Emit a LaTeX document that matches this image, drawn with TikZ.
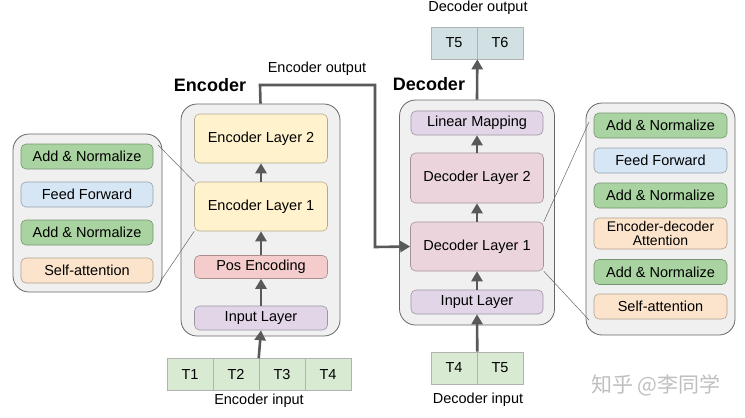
\documentclass[tikz,border=0pt]{standalone}
\usepackage{fontspec}
\setmainfont{Liberation Sans}
\newfontfamily\cjk{Noto Sans CJK SC}
\usetikzlibrary{arrows.meta}
\begin{document}
\begin{tikzpicture}[x=1pt,y=-1pt,font=\fontsize{14.5}{15}\selectfont,
 blk/.style={draw=#1!70!black,rounded corners=5pt,line width=0.6pt,align=center,inner sep=0pt},
 outer/.style={draw=black!60,fill=black!6,rounded corners=16pt,line width=0.8pt},
 arr/.style={draw=black!65,line width=2.6pt,-{Triangle[length=10pt,width=11pt]}},
 thin/.style={draw=black!60,line width=0.5pt},
 tok/.style={draw=black!30,line width=0.6pt,minimum height=32pt,minimum width=46pt,inner sep=0pt}]
\useasboundingbox (0,0) rectangle (745,418);
\definecolor{yel}{HTML}{FFF2CC}\definecolor{pnk}{HTML}{EBD4DC}\definecolor{pur}{HTML}{E1D5E7}
\definecolor{grn}{HTML}{A9D3A0}\definecolor{blu}{HTML}{D6E6F5}\definecolor{org}{HTML}{FCE4CC}
\definecolor{pos}{HTML}{F4CCCC}\definecolor{tg}{HTML}{D9EAD3}\definecolor{tb}{HTML}{D0E0E3}
% encoder
\node[outer,minimum width=159pt,minimum height=232pt] (encbox) at (260.5,220) {};
\node[font=\fontsize{18}{20}\selectfont\bfseries] (enct) at (210,85) {Encoder};
\node[blk=yel,fill=yel,minimum width=133pt,minimum height=49pt] (el2) at (261,138.5) {Encoder Layer 2};
\node[blk=yel,fill=yel,minimum width=133pt,minimum height=49pt] (el1) at (261,206.5) {Encoder Layer 1};
\node[blk=pos,fill=pos,minimum width=133pt,minimum height=23pt] (pe) at (261,267) {Pos Encoding};
\node[blk=pur,fill=pur,minimum width=133pt,minimum height=24pt] (il) at (261,318) {Input Layer};
\foreach \i/\x in {1/190,2/236,3/282,4/328}{\node[tok,fill=tg] (t\i) at (\x,374.5) {T\i};}
\node (encin) at (259,401) {Encoder input};
\draw[arr] (el1.north) -- (el2.south);
\draw[arr] (pe.north) -- (el1.south);
\draw[arr] (il.north) -- (pe.south);
\draw[arr] (t3.north west) -- (il.south);
% encoder detail
\node[outer,minimum width=149pt,minimum height=158pt] (ebox) at (87.5,213) {};
\node[blk=grn,fill=grn,minimum width=132pt,minimum height=25pt] (ea1) at (87,156.5) {Add \& Normalize};
\node[blk=blu,fill=blu,minimum width=132pt,minimum height=25pt] (eff) at (87,194.5) {Feed Forward};
\node[blk=grn,fill=grn,minimum width=132pt,minimum height=25pt] (ea2) at (87,232.5) {Add \& Normalize};
\node[blk=org,fill=org,minimum width=132pt,minimum height=25pt] (esa) at (87,270.5) {Self-attention};
\draw[thin] (158,145) -- (el1.north west);
\draw[thin] (160,282) -- (el1.south west);
% decoder
\node[outer,minimum width=155pt,minimum height=225pt] (decbox) at (477,212.5) {};
\node[font=\fontsize{18}{20}\selectfont\bfseries] (dect) at (429,84) {Decoder};
\node[blk=pur,fill=pur,minimum width=132pt,minimum height=24pt] (lm) at (477,123) {Linear Mapping};
\node[blk=pnk,fill=pnk,minimum width=133pt,minimum height=50pt] (dl2) at (477,178) {Decoder Layer 2};
\node[blk=pnk,fill=pnk,minimum width=133pt,minimum height=49pt] (dl1) at (477,246.5) {Decoder Layer 1};
\node[blk=pur,fill=pur,minimum width=132pt,minimum height=24pt] (dil) at (477,302) {Input Layer};
\node[tok,fill=tg] (d4) at (454,368) {T4};
\node[tok,fill=tg] (d5) at (500,368) {T5};
\node (decin) at (478,400) {Decoder input};
\node[tok,fill=tb] (o5) at (454,43) {T5};
\node[tok,fill=tb] (o6) at (500,43) {T6};
\node (decout) at (478,8) {Decoder output};
\draw[arr] (dl2.north) -- (lm.south);
\draw[arr] (dl1.north) -- (dl2.south);
\draw[arr] (dil.north) -- (dl1.south);
\draw[arr] (d4.north east) -- (dil.south);
\draw[arr] (decbox.north) -- (o5.south east);
% encoder output
\coordinate (c1) at (260,85); \coordinate (c2) at (375,85); \coordinate (c3) at (375,247);
\draw[arr] (encbox.north) -- (c1) -- (c2) -- (c3) -- (dl1.west);
\node (encout) at (317,69) {Encoder output};
% decoder detail
\node[outer,minimum width=149pt,minimum height=232pt] (dbox) at (660.5,219) {};
\node[blk=grn,fill=grn,minimum width=133pt,minimum height=25pt] (da1) at (660.5,125.5) {Add \& Normalize};
\node[blk=blu,fill=blu,minimum width=133pt,minimum height=25pt] (dff) at (660.5,160.5) {Feed Forward};
\node[blk=grn,fill=grn,minimum width=133pt,minimum height=25pt] (da2) at (660.5,195.5) {Add \& Normalize};
\node[blk=org,fill=org,minimum width=133pt,minimum height=31pt,font=\fontsize{14}{14}\selectfont] (eda) at (660.5,233.5) {Encoder-decoder\\Attention};
\node[blk=grn,fill=grn,minimum width=133pt,minimum height=25pt] (da3) at (660.5,272) {Add \& Normalize};
\node[blk=org,fill=org,minimum width=133pt,minimum height=25pt] (dsa) at (660.5,306.5) {Self-attention};
\draw[thin] (589,122) -- (dl1.north east);
\draw[thin] (589,320) -- (dl1.south east);
\node[text=black!25,font=\fontsize{21}{23}\selectfont\cjk] (wm) at (656,385) {知乎 @李同学};
\end{tikzpicture}
\end{document}
